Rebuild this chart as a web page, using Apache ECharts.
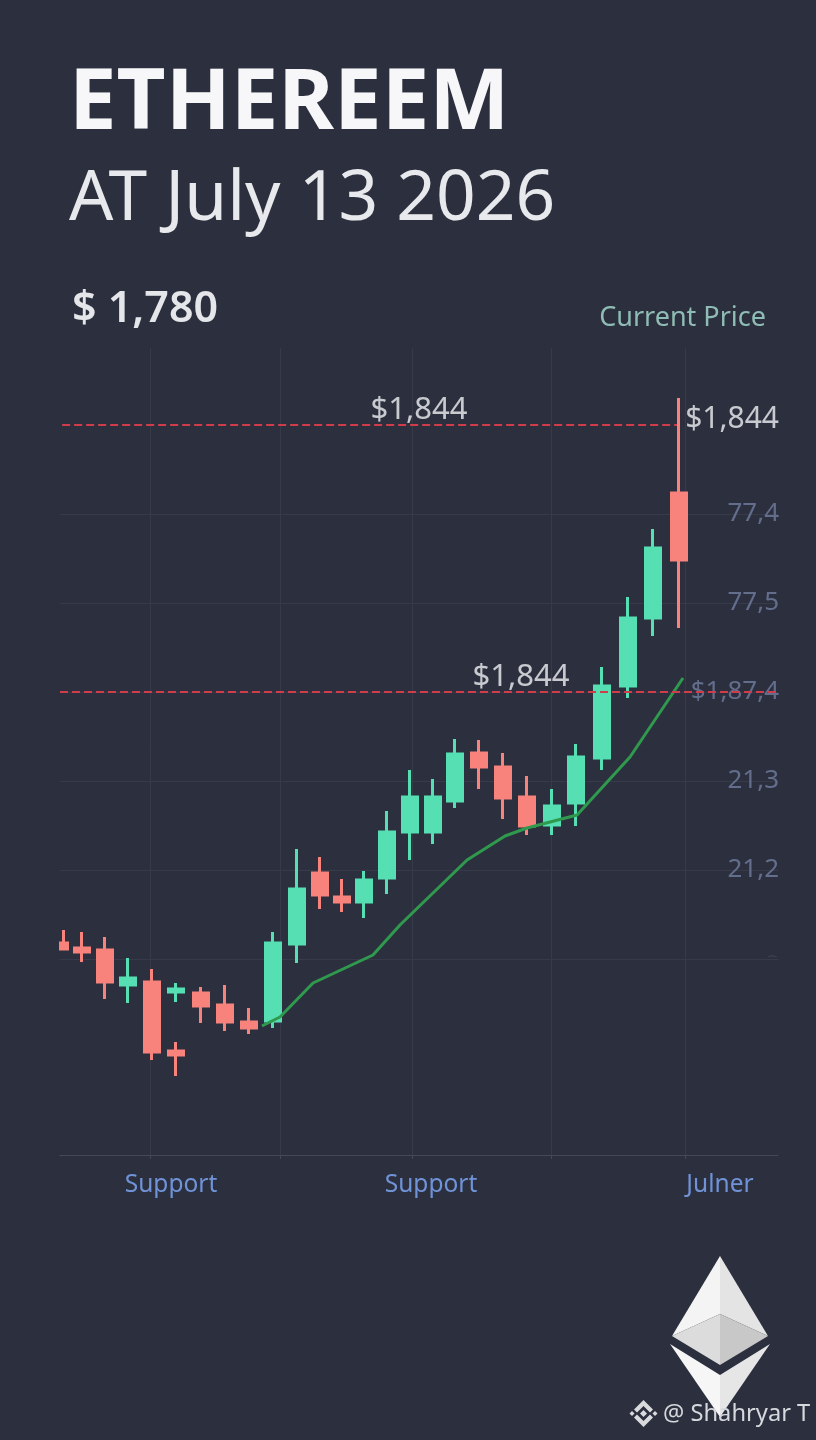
<!DOCTYPE html>
<html><head><meta charset="utf-8">
<style>html,body{margin:0;padding:0;background:#2c303e}#c{width:816px;height:1440px}</style>
<script src="https://cdn.jsdelivr.net/npm/echarts@6/dist/echarts.min.js"></script>
</head><body><div id="c"></div>
<script>
// time position of each session (0-100 axis)
const sessionTime = [0.56,3.06,6.27,9.47,12.81,16.16,16.16,19.64,22.98,26.32,29.67,33.01,36.21,39.28,42.34,45.54,48.75,51.95,55.01,58.36,61.70,65.04,68.52,71.87,75.49,79.11,82.59,86.21];
const opens  = [1326,1321,1319,1284,1287,1277,1218,1276,1264,1247,1248,1325,1396,1372,1367,1391,1437,1437,1468,1516,1502,1472,1444,1466,1511,1583,1651,1776];
const closes = [1320,1317,1287,1291,1217,1280,1214,1263,1247,1241,1326,1380,1374,1367,1389,1437,1472,1472,1515,1502,1471,1443,1463,1512,1583,1651,1721,1709];
const lows   = [1319,1307,1270,1266,1209,1267,1193,1246,1238,1235,1241,1306,1360,1357,1351,1375,1409,1425,1461,1480,1450,1434,1434,1443,1499,1571,1633,1641];
const highs  = [1339,1337,1332,1311,1300,1286,1227,1282,1284,1261,1337,1420,1412,1390,1398,1458,1499,1490,1530,1529,1516,1493,1480,1525,1602,1672,1740,1871];
const maTime = [28.13,30.64,35.24,43.59,47.35,56.69,61.98,65.04,72.01,79.39,86.77];
const maVals = [1243,1252,1286,1314,1344,1409,1433,1441,1454,1512,1591];
const gridValues = [1755,1666,1577,1488,1399,1310];
const gridTickLabels = ['77,4','77,5','$1,87,4','21,3','21,2','{arc|⌒}'];
const dashedLevels = [1844,1577];
const levelLabels = ['$1,844','$1,844'];
const levelLabelTimes = [50,64.2];
const topRightLabel = '$1,844';
const xGridTimes = [12.53,30.64,49.03,68.38,87.05];
const xLabelTimes = [15.46,51.67,91.92];
const xLabels = ['Support','Support','Julner'];

const UI = "'Noto Sans', sans-serif";
const up = '#55dfb2', down = '#f8827c';
const candleData = sessionTime.map((t,i)=>[t,opens[i],closes[i],lows[i],highs[i]]);
const chart = echarts.init(document.getElementById('c'),null,{renderer:'canvas'});
const poly = (pts,fill)=>({type:'polygon',shape:{points:pts},style:{fill},z:1});
const candleStyle = {color:up,color0:down,borderColor:up,borderColor0:down,borderWidth:3};
chart.setOption({
  animation:false,
  backgroundColor:'#2c303e',
  grid:{left:60,right:38,top:348,bottom:285,containLabel:false},
  xAxis:{type:'value',min:0,max:100,
    axisLine:{show:true,lineStyle:{color:'#444857',width:1}},
    axisTick:{show:true,length:4,customValues:xGridTimes,lineStyle:{color:'#444857'}},
    splitLine:{show:true,lineStyle:{color:'#363a49',width:1}},
    axisLabel:{show:true,customValues:xLabelTimes,margin:18,fontFamily:UI,fontSize:24.5,
      color:v=>v===xLabelTimes[2]?'#5f7bab':'#7093d8',
      formatter:v=>xLabels[xLabelTimes.indexOf(v)]||''}},
  yAxis:{type:'value',position:'right',min:1114,max:1921,
    axisLine:{show:false},
    axisTick:{show:false,customValues:gridValues},
    splitLine:{show:true,lineStyle:{color:'#363a49',width:1}},
    axisLabel:{show:true,inside:true,customValues:gridValues,margin:-1,fontFamily:UI,fontSize:26,verticalAlign:'middle',
      color:'#636d8c',
      rich:{arc:{fontSize:13,color:'#4a4f62',padding:[6,0,0,0]}},
      formatter:v=>gridTickLabels[gridValues.indexOf(v)]||''}},
  series:[
    {type:'candlestick',name:'ETH',data:candleData.slice(1),encode:{x:0,y:[1,2,3,4]},barWidth:16,z:3,itemStyle:candleStyle},
    {type:'candlestick',name:'ETH first session',data:candleData.slice(0,1),encode:{x:0,y:[1,2,3,4]},barWidth:7,z:3,itemStyle:candleStyle},
    {type:'line',name:'Trend',data:maTime.map((t,i)=>[t,maVals[i]]),showSymbol:false,symbol:'none',z:4,
      lineStyle:{color:'#2f9a4d',width:3}},
    {type:'line',name:'Top level',data:[[0.3,dashedLevels[0]],[86.2,dashedLevels[0]]],showSymbol:false,symbol:'none',z:2,
      lineStyle:{color:'#d13c4a',width:2,type:[8,4]}},
    {type:'line',name:'Lower level',data:[[0,dashedLevels[1]],[100,dashedLevels[1]]],showSymbol:false,symbol:'none',z:5,
      lineStyle:{color:'#d13c4a',width:2,type:[8,4]}},
    {type:'scatter',name:'Level labels',symbolSize:0,z:6,
      data:dashedLevels.map((v,i)=>({value:[levelLabelTimes[i],v],label:{formatter:levelLabels[i]}})),
      label:{show:true,position:'top',distance:-1,fontFamily:UI,fontSize:31,color:'#f0f1f4'}},
    {type:'scatter',name:'Top right label',symbolSize:0,z:6,
      data:[{value:[100,dashedLevels[0]],label:{formatter:topRightLabel}}],
      label:{show:true,position:'insideRight',align:'right',offset:[6,-6],fontFamily:UI,fontSize:30,color:'#f0f1f4'}}
  ],
  graphic:[
    {type:'group',silent:true,children:[
      poly([[720,1256],[672,1336],[720,1314]],'#f4f4f4'),
      poly([[720,1256],[768,1336],[720,1314]],'#e4e4e4'),
      poly([[672,1336],[720,1314],[720,1365]],'#dcdcdc'),
      poly([[768,1336],[720,1314],[720,1365]],'#c8c8c8'),
      poly([[670,1344],[720,1375],[720,1417]],'#f6f6f6'),
      poly([[770,1344],[720,1375],[720,1417]],'#e6e6e6'),
      poly([[643.5,1400],[653,1409.5],[650,1412.5],[643.5,1406],[637,1412.5],[634,1409.5]],'#d8dade'),
      poly([[643.5,1427],[653,1417.5],[650,1414.5],[643.5,1421],[637,1414.5],[634,1417.5]],'#d8dade'),
      poly([[643.5,1410],[647,1413.5],[643.5,1417],[640,1413.5]],'#d8dade'),
      poly([[632,1411],[634.5,1413.5],[632,1416],[629.5,1413.5]],'#d8dade'),
      poly([[655,1411],[657.5,1413.5],[655,1416],[652.5,1413.5]],'#d8dade')
    ]},
    {type:'text',x:69,y:105,z:10,style:{text:'ETHEREEM',fontFamily:UI,fontWeight:700,fontSize:85,fill:'#f7f7f9',textVerticalAlign:'middle'}},
    {type:'text',x:69,y:200,z:10,style:{text:'AT July 13 2026',fontFamily:UI,fontWeight:400,fontSize:69.5,fill:'#e8e9ec',textVerticalAlign:'middle'}},
    {type:'text',x:72,y:310,z:10,style:{text:'$ 1,780',fontFamily:UI,fontWeight:600,fontSize:43,fill:'#e4e6ea',textVerticalAlign:'middle'}},
    {type:'text',x:766,y:318,z:10,style:{text:'Current Price',fontFamily:UI,fontSize:27,fill:'#8fbdb5',textAlign:'right',textVerticalAlign:'middle'}},
    {type:'text',x:663,y:1414,z:10,style:{text:'@ Shahryar T',fontFamily:UI,fontSize:23.7,fill:'#d5d8dc',textVerticalAlign:'middle'}}
  ]
});
</script></body></html>
